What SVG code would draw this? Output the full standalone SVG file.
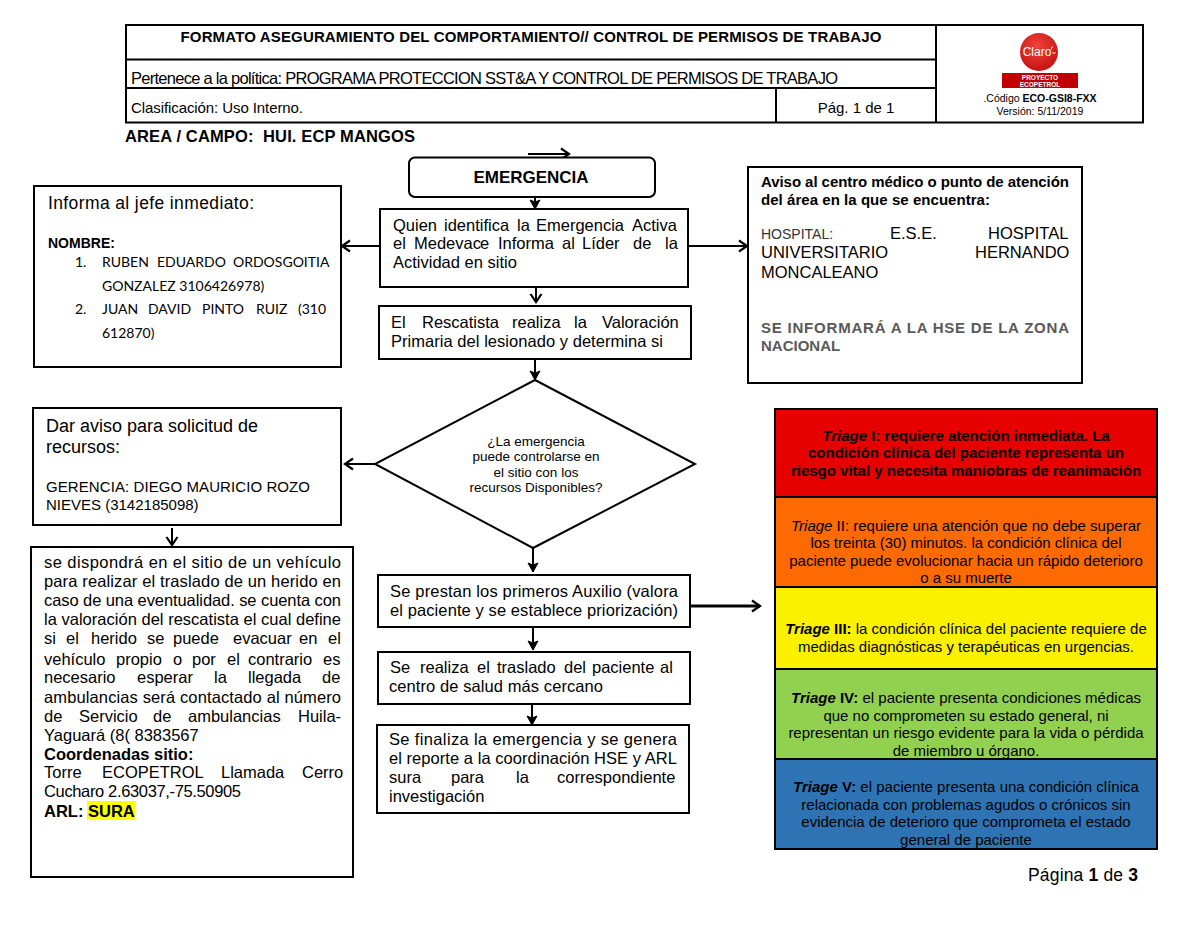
<svg xmlns="http://www.w3.org/2000/svg" width="1200" height="927" viewBox="0 0 1200 927">
<style>
text{font-family:"Liberation Sans",Arial,sans-serif;fill:#000;white-space:pre}
.box{fill:#fff;stroke:#000;stroke-width:2}
.ln{fill:none;stroke:#000;stroke-width:2}
.f16{font-size:16.500px}.f15{font-size:15px}.f14{font-size:14px}.f12{font-size:13.500px}
.b{font-weight:bold}.i{font-style:italic}
.m{text-anchor:middle}
.lato{font-family:"Lato","Liberation Sans",sans-serif;font-size:14px}
.tri{font-size:15px;text-anchor:middle}
</style>
<defs>
<marker id="open" markerUnits="userSpaceOnUse" markerWidth="16" markerHeight="16" refX="12" refY="8" orient="auto"><path d="M4 2.500 L12 8 L4 13.500" fill="none" stroke="#000" stroke-width="2.200"/></marker>
<marker id="solid" markerUnits="userSpaceOnUse" markerWidth="14" markerHeight="14" refX="11" refY="7" orient="auto"><path d="M2 2 L11 7 L2 12 L4 7Z" fill="#000" stroke="#000" stroke-width="1"/></marker>
<radialGradient id="claro" cx="45%" cy="35%" r="70%"><stop offset="0" stop-color="#f0443a"/><stop offset="1" stop-color="#c40f0f"/></radialGradient>
</defs>
<g id="header">
<rect x="126" y="25" width="1017" height="97.500" fill="#fff" stroke="#000" stroke-width="2"/>
<path class="ln" d="M126 59.500H936M126 88H936M936 25V122.500M776 88V122.500"/>
<text class="f15 b m" x="531" y="42" textLength="701">FORMATO ASEGURAMIENTO DEL COMPORTAMIENTO// CONTROL DE PERMISOS DE TRABAJO</text>
<text class="f16" x="131" y="84" textLength="707">Pertenece a la política: PROGRAMA PROTECCION SST&amp;A Y CONTROL DE PERMISOS DE TRABAJO</text>
<text class="f15" x="131" y="113" textLength="172">Clasificación: Uso Interno.</text>
<text class="f15 m" x="856" y="113">Pág. 1 de 1</text>
</g>
<g id="logo">
<circle cx="1039" cy="52" r="19" fill="url(#claro)"/>
<text x="1037" y="56" text-anchor="middle" style="font-size:12px;fill:#fff">Claro</text>
<path d="M1051 49.500l1.500-3M1052.500 53h3" fill="none" stroke="#fff" stroke-width="1"/>
<rect x="1002" y="73" width="76" height="15" fill="#c00000"/>
<text x="1040" y="79.500" text-anchor="middle" class="b" style="font-size:6.500px;fill:#fff">PROYECTO</text>
<text x="1040" y="86.500" text-anchor="middle" class="b" style="font-size:6.500px;fill:#fff">ECOPETROL</text>
<text x="1040" y="102" text-anchor="middle" style="font-size:10.500px">.Código <tspan class="b">ECO-GSI8-FXX</tspan></text>
<text x="1040" y="115" text-anchor="middle" style="font-size:10.500px">Versión: 5/11/2019</text>
</g>
<text id="area" class="f16 b" x="125" y="142" textLength="290">AREA / CAMPO:  HUI. ECP MANGOS</text>
<g id="connectors">
<path class="ln" d="M528 154H569" marker-end="url(#open)"/>
<path class="ln" d="M535 197V209" marker-end="url(#solid)"/>
<path class="ln" d="M380 246H342" marker-end="url(#open)"/>
<path class="ln" d="M688 246H747" marker-end="url(#open)"/>
<path class="ln" d="M536 287V302" marker-end="url(#open)"/>
<path class="ln" d="M535 359V380" marker-end="url(#solid)"/>
<path class="ln" d="M375 464H345" marker-end="url(#open)"/>
<path class="ln" d="M172 528V545" marker-end="url(#open)"/>
<path class="ln" d="M533 548V572" marker-end="url(#solid)"/>
<path class="ln" d="M690 606H760" style="stroke-width:3" marker-end="url(#open)"/>
<path class="ln" d="M533 627V650" marker-end="url(#solid)"/>
<path class="ln" d="M532 704V725" marker-end="url(#solid)"/>
</g>
<g id="node-emergencia">
<rect class="box" x="409" y="157.500" width="246" height="39.500" rx="6"/>
<text class="b m" style="font-size:17px" x="531" y="183">EMERGENCIA</text>
</g>
<g id="node-identifica">
<rect class="box" x="380" y="209" width="308" height="78"/>
<text class="f16" y="231"><tspan x="393">Quien</tspan> <tspan x="444">identifica</tspan> <tspan x="517">la</tspan> <tspan x="536">Emergencia</tspan> <tspan x="632">Activa</tspan></text>
<text class="f16" y="249"><tspan x="393">el</tspan> <tspan x="414">Medevac</tspan> <tspan x="480">e</tspan> <tspan x="498">Informa</tspan> <tspan x="562">al</tspan> <tspan x="582">Líder</tspan> <tspan x="633">de</tspan> <tspan x="665">la</tspan></text>
<text class="f16" x="393" y="268">Actividad en sitio</text>
</g>
<g id="node-rescatista">
<rect class="box" x="379" y="306" width="312" height="53"/>
<text class="f16" y="328"><tspan x="391">El</tspan> <tspan x="422">Rescatista</tspan> <tspan x="512">realiza</tspan> <tspan x="574">la</tspan> <tspan x="602">Valoración</tspan></text>
<text class="f16" x="391" y="347" textLength="272">Primaria del lesionado y determina si</text>
</g>
<g id="node-jefe">
<rect class="box" x="34" y="186" width="307" height="181"/>
<text style="font-size:17.500px" x="48" y="209" textLength="206">Informa al jefe inmediato:</text>
<text class="f14 b" x="48" y="248">NOMBRE:</text>
<text class="lato" x="75" y="267">1.</text>
<text class="lato" y="267"><tspan x="102">RUBEN</tspan> <tspan x="157">EDUARDO</tspan> <tspan x="233">ORDOSGOITIA</tspan></text>
<text class="lato" x="102" y="291">GONZALEZ 3106426978)</text>
<text class="lato" x="75" y="314">2.</text>
<text class="lato" y="314"><tspan x="102">JUAN</tspan> <tspan x="148">DAVID</tspan> <tspan x="202">PINTO</tspan> <tspan x="256">RUIZ</tspan> <tspan x="298">(310</tspan></text>
<text class="lato" x="102" y="338">612870)</text>
</g>
<g id="node-centro-medico">
<rect class="box" x="748" y="167" width="334" height="216"/>
<text class="f15 b" x="761" y="187" textLength="308">Aviso al centro médico o punto de atención</text>
<text class="f15 b" x="761" y="205" textLength="229">del área en la que se encuentra:</text>
<text class="f16" y="239"><tspan x="761" class="f14" style="fill:#333">HOSPITAL:</tspan> <tspan x="890">E.S.E.</tspan> <tspan x="988">HOSPITAL</tspan></text>
<text class="f16" y="258"><tspan x="761">UNIVERSITARIO</tspan> <tspan x="975">HERNANDO</tspan></text>
<text class="f16" x="761" y="278">MONCALEANO</text>
<text class="f15 b" style="fill:#595959" x="761" y="333" textLength="308">SE INFORMARÁ A LA HSE DE LA ZONA</text>
<text class="f15 b" style="fill:#595959" x="761" y="351">NACIONAL</text>
</g>
<g id="node-decision">
<path class="box" d="M535 380L695 464L533 548L375 464Z" stroke-linejoin="miter"/>
<text class="f12 m" x="536" y="446">¿La emergencia</text>
<text class="f12 m" x="536" y="461">puede controlarse en</text>
<text class="f12 m" x="536" y="477">el sitio con los</text>
<text class="f12 m" x="536" y="492">recursos Disponibles?</text>
</g>
<g id="node-recursos">
<rect class="box" x="33" y="408" width="308" height="117"/>
<text style="font-size:18px" x="46" y="432">Dar aviso para solicitud de</text>
<text style="font-size:18px" x="46" y="453">recursos:</text>
<text class="f15" x="46" y="492" textLength="264">GERENCIA: DIEGO MAURICIO ROZO</text>
<text class="f15" x="46" y="510">NIEVES (3142185098)</text>
</g>
<g id="node-vehiculo">
<rect class="box" x="31" y="547" width="322" height="330"/>
<rect x="87" y="801" width="48" height="19" fill="#ffff00"/>
<text class="f16" x="44" y="568" textLength="297">se dispondrá en el sitio de un vehículo</text>
<text class="f16" x="44" y="587" textLength="297">para realizar el traslado de un herido en</text>
<text class="f16" x="44" y="606" textLength="297">caso de una eventualidad. se cuenta con</text>
<text class="f16" x="44" y="625" textLength="297">la valoración del rescatista el cual define</text>
<text class="f16" y="644"><tspan x="44">si</tspan> <tspan x="66">el</tspan> <tspan x="91">herido</tspan> <tspan x="147">se</tspan> <tspan x="173">puede</tspan> <tspan x="233">evacuar</tspan> <tspan x="299">en</tspan> <tspan x="328">el</tspan></text>
<text class="f16" y="665"><tspan x="44">vehículo</tspan> <tspan x="116">propio</tspan> <tspan x="173">o</tspan> <tspan x="192">por</tspan> <tspan x="227">el</tspan> <tspan x="248">contrario</tspan> <tspan x="323">es</tspan></text>
<text class="f16" y="683"><tspan x="44">necesario</tspan> <tspan x="137">esperar</tspan> <tspan x="214">la</tspan> <tspan x="248">llegada</tspan> <tspan x="322">de</tspan></text>
<text class="f16" x="44" y="703" textLength="297">ambulancias será contactado al número</text>
<text class="f16" y="722"><tspan x="44">de</tspan> <tspan x="79">Servicio</tspan> <tspan x="153">de</tspan> <tspan x="188">ambulancias</tspan> <tspan x="298">Huila-</tspan></text>
<text class="f16" x="44" y="741">Yaguará (8( 8383567</text>
<text class="f16 b" x="44" y="760">Coordenadas sitio:</text>
<text class="f16" y="778"><tspan x="44">Torre</tspan> <tspan x="102">ECOPETROL</tspan> <tspan x="221">Llamada</tspan> <tspan x="302">Cerro</tspan></text>
<text class="f16" x="44" y="797" textLength="197">Cucharo 2.63037,-75.50905</text>
<text class="f16 b" x="44" y="817">ARL: <tspan x="88">SURA</tspan></text>
</g>
<g id="node-auxilio">
<rect class="box" x="378" y="575" width="312" height="52"/>
<text class="f16" x="390" y="597" textLength="288">Se prestan los primeros Auxilio (valora</text>
<text class="f16" x="390" y="616" textLength="288">el paciente y se establece priorización)</text>
</g>
<g id="node-traslado">
<rect class="box" x="378" y="652" width="312" height="52"/>
<text class="f16" y="673"><tspan x="390">Se</tspan> <tspan x="420">realiza</tspan> <tspan x="477">el</tspan> <tspan x="497">traslado</tspan> <tspan x="564">del</tspan> <tspan x="592">paciente</tspan> <tspan x="660">al</tspan></text>
<text class="f16" x="389" y="692" textLength="214">centro de salud más cercano</text>
</g>
<g id="node-finaliza">
<rect class="box" x="377" y="725" width="312" height="88"/>
<text class="f16" x="389" y="745" textLength="288">Se finaliza la emergencia y se genera</text>
<text class="f16" x="389" y="764" textLength="288">el reporte a la coordinación HSE y ARL</text>
<text class="f16" y="783"><tspan x="389">sura</tspan> <tspan x="451">para</tspan> <tspan x="516">la</tspan> <tspan x="557">correspondiente</tspan></text>
<text class="f16" x="389" y="802">investigación</text>
</g>
<g id="node-triage">
<rect x="775" y="409" width="382" height="88" fill="#e60000" stroke="#000" stroke-width="2"/>
<rect x="775" y="497" width="382" height="90" fill="#fd6a02" stroke="#000" stroke-width="2"/>
<rect x="775" y="587" width="382" height="82" fill="#faf000" stroke="#000" stroke-width="2"/>
<rect x="775" y="669" width="382" height="90" fill="#92d050" stroke="#000" stroke-width="2"/>
<rect x="775" y="759" width="382" height="90" fill="#2e74b5" stroke="#000" stroke-width="2"/>
<text class="tri b" x="966" y="441"><tspan class="i">Triage</tspan> I: requiere atención inmediata. La</text>
<text class="tri b" x="966" y="458">condición clínica del paciente representa un</text>
<text class="tri b" x="966" y="476">riesgo vital y necesita maniobras de reanimación</text>
<text class="tri" x="966" y="531"><tspan class="i">Triage</tspan> II: requiere una atención que no debe superar</text>
<text class="tri" x="966" y="548">los treinta (30) minutos. la condición clínica del</text>
<text class="tri" x="966" y="566">paciente puede evolucionar hacia un rápido deterioro</text>
<text class="tri" x="966" y="583">o a su muerte</text>
<text class="tri" x="966" y="634"><tspan class="i b">Triage</tspan> <tspan class="b">III:</tspan> la condición clínica del paciente requiere de</text>
<text class="tri" x="966" y="652">medidas diagnósticas y terapéuticas en urgencias.</text>
<text class="tri" x="966" y="703"><tspan class="i b">Triage</tspan> <tspan class="b">IV:</tspan> el paciente presenta condiciones médicas</text>
<text class="tri" x="966" y="721">que no comprometen su estado general, ni</text>
<text class="tri" x="966" y="738">representan un riesgo evidente para la vida o pérdida</text>
<text class="tri" x="966" y="756">de miembro u órgano.</text>
<text class="tri" x="966" y="792"><tspan class="i b">Triage</tspan> <tspan class="b">V:</tspan> el paciente presenta una condición clínica</text>
<text class="tri" x="966" y="810">relacionada con problemas agudos o crónicos sin</text>
<text class="tri" x="966" y="827">evidencia de deterioro que comprometa el estado</text>
<text class="tri" x="966" y="845">general de paciente</text>
</g>
<text id="pagina" style="font-size:17.500px" x="1028" y="881" textLength="110">Página <tspan class="b">1</tspan> de <tspan class="b">3</tspan></text>
</svg>
